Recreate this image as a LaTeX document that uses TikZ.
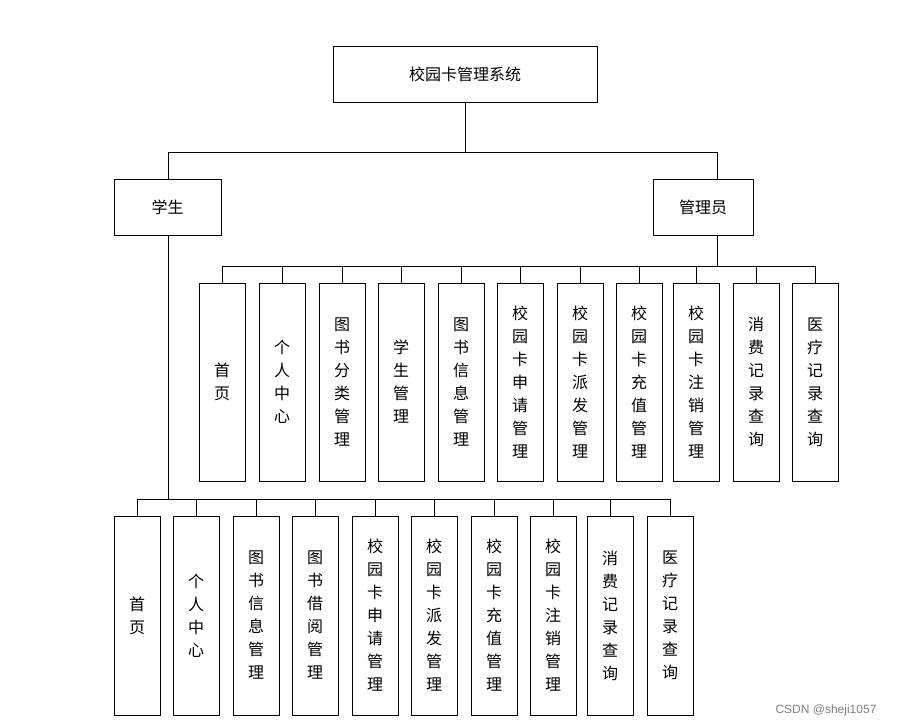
\documentclass[tikz,border=0pt]{standalone}
\usepackage{fontspec}
\newfontfamily\cjk{Noto Sans CJK SC}
\begin{document}
\begin{tikzpicture}[x=1pt,y=-1pt,
  bx/.style={draw,line width=0.9pt,inner sep=0pt,font=\cjk\fontsize{16}{23}\selectfont,align=center},
  ln/.style={line width=0.9pt}]
\useasboundingbox (0,0) rectangle (901,727);
\node[bx,minimum width=264,minimum height=56] (root) at (465,74) {校园卡管理系统};
\node[bx,minimum width=107,minimum height=56] (stu) at (167.5,207) {学生};
\node[bx,minimum width=100,minimum height=56] (adm) at (703,207) {管理员};
\coordinate (j) at (465,152);
\draw[ln] (root.south) -- (j);
\draw[ln] (168,152) -- (717,152);
\draw[ln] (168,152) -- (168,179);
\draw[ln] (717,152) -- (717,179);
% admin children
\draw[ln] (717,235) -- (717,266);
\draw[ln] (222,266) -- (815,266);
\foreach \x/\t/\n in {222/首\\页/a1,282/个\\人\\中\\心/a2,342/图\\书\\分\\类\\管\\理/a3,401/学\\生\\管\\理/a4,461/图\\书\\信\\息\\管\\理/a5,520/校\\园\\卡\\申\\请\\管\\理/a6,580/校\\园\\卡\\派\\发\\管\\理/a7,639/校\\园\\卡\\充\\值\\管\\理/a8,696/校\\园\\卡\\注\\销\\管\\理/a9,756/消\\费\\记\\录\\查\\询/a10,815/医\\疗\\记\\录\\查\\询/a11}{
  \node[bx,minimum width=46,minimum height=198] (\n) at (\x,382) {\t};
  \draw[ln] (\x,266) -- (\n.north);
}
% student children
\draw[ln] (168,235) -- (168,499);
\draw[ln] (137,499) -- (670,499);
\foreach \x/\t/\n in {137/首\\页/s1,196/个\\人\\中\\心/s2,256/图\\书\\信\\息\\管\\理/s3,315/图\\书\\借\\阅\\管\\理/s4,375/校\\园\\卡\\申\\请\\管\\理/s5,434/校\\园\\卡\\派\\发\\管\\理/s6,494/校\\园\\卡\\充\\值\\管\\理/s7,553/校\\园\\卡\\注\\销\\管\\理/s8,610/消\\费\\记\\录\\查\\询/s9,670/医\\疗\\记\\录\\查\\询/s10}{
  \node[bx,minimum width=46,minimum height=199] (\n) at (\x,615.5) {\t};
  \draw[ln] (\x,499) -- (\n.north);
}
\node[font=\fontspec{Liberation Sans}\fontsize{12}{14}\selectfont,text=gray] (wm) at (826,710) {CSDN @sheji1057};
\end{tikzpicture}
\end{document}
